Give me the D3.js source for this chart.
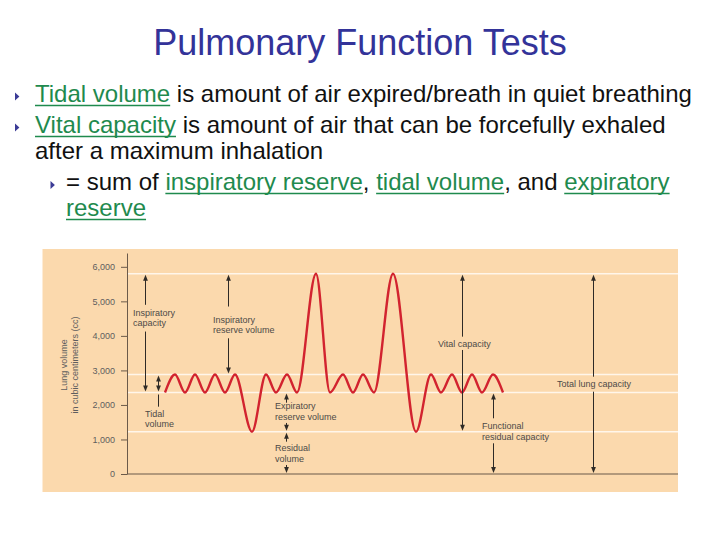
<!DOCTYPE html>
<html>
<head>
<meta charset="utf-8">
<script src="https://cdn.jsdelivr.net/npm/d3@7"></script>
<style>
  html, body { margin: 0; padding: 0; background: #ffffff; }
  svg { display: block; font-family: "Liberation Sans", Arial, Helvetica, sans-serif; }
</style>
</head>
<body>
<svg id="chart" width="720" height="540"></svg>
<script>
// ---------------- DATA ----------------
const titleText = "Pulmonary Function Tests";

// slide bullet lines: [text, isGreenLink]
const bulletLine1 = [["Tidal volume", true], [" is amount of air expired/breath in quiet breathing", false]];
const bulletLine2 = [["Vital capacity", true], [" is amount of air that can be forcefully exhaled", false]];
const bulletLine3 = [["after a maximum inhalation", false]];
const bulletLine4 = [["= sum of ", false], ["inspiratory reserve", true], [", ", false], ["tidal volume", true], [", and ", false], ["expiratory", true]];
const bulletLine5 = [["reserve", true]];

// y axis
const yTicks = [0, 1000, 2000, 3000, 4000, 5000, 6000];
const yAxisTitle = ["Lung volume", "in cubic centimeters (cc)"];

// reference levels (cc)
const levelValues = [5800, 2880, 2360, 1225];

// spirogram extremes (time units, volume in cc)
const breathTimes   = [3.7, 4.7, 5.7, 6.7, 7.7, 8.7, 9.7, 10.7, 12.4, 13.8, 14.8, 15.9, 16.9, 18.8, 20.2,
                       21.5, 22.5, 23.5, 24.6, 26.5, 28.8, 30.3, 31.3, 32.4, 33.4, 34.4, 35.4, 36.5, 37.5];
const breathVolumes = [2360, 2880, 2360, 2880, 2360, 2880, 2360, 2880, 1225, 2880, 2360, 2880, 2360, 5800, 2360,
                       2880, 2360, 2880, 2360, 5800, 1225, 2880, 2360, 2880, 2360, 2880, 2360, 2880, 2360];

// annotations: arrow at time x from volume a to volume b, label lines anchored at (tx, ty) in data units
const annLabels = [["Inspiratory", "capacity"], ["Tidal", "volume"], ["Inspiratory", "reserve volume"],
                   ["Expiratory", "reserve volume"], ["Residual", "volume"], ["Vital capacity"],
                   ["Functional", "residual capacity"], ["Total lung capacity"]];
const annX      = [1.7, 3.0, 10.0, 15.8, 15.8, 33.4, 36.5, 46.5];
const annFrom   = [5800, 2880, 5800, 2360, 1225, 5800, 2360, 5800];
const annTo     = [2360, 2360, 2880, 1225, 0, 1225, 0, 0];
const annTextX  = [0.5, 1.7, 8.5, 14.7, 14.7, 31.0, 35.4, 42.9];
const annTextY  = [4580, 1660, 4385, 1875, 658, 3690, 1296, 2530];
const annGapTop = [4900, null, 4850, 2065, 936, 3977, 1613, 2818];
const annGapBot = [4125, null, 3930, 1478, 261, 3591, 889, 2384];

// ---------------- DRAW ----------------
const svg = d3.select("#chart");
const FONT = '"Liberation Sans", Arial, Helvetica, sans-serif';

// title
svg.append("text")
  .attr("x", 360).attr("y", 54.5)
  .attr("text-anchor", "middle")
  .attr("font-size", 36)
  .attr("fill", "#333399")
  .text(titleText);

// bullets
const GREEN = "#1f8a4e";
function bulletText(segs, x, y) {
  const t = svg.append("text").attr("x", x).attr("y", y).attr("font-size", 24).attr("fill", "#111");
  segs.forEach(s => t.append("tspan").attr("fill", s[1] ? GREEN : "#111").text(s[0]));
  const node = t.node();
  let idx = 0;
  segs.forEach(s => {
    if (s[1]) {
      const x0 = node.getStartPositionOfChar(idx).x;
      const w = node.getSubStringLength(idx, s[0].length);
      svg.append("line").attr("x1", x0).attr("x2", x0 + w)
        .attr("y1", y + 3.5).attr("y2", y + 3.5)
        .attr("stroke", GREEN).attr("stroke-width", 1.5);
    }
    idx += s[0].length;
  });
}
function bulletMark(cx, cy, s) {
  svg.append("path")
    .attr("d", `M${cx - s * 0.5},${cy - s}L${cx + s * 0.6},${cy}L${cx - s * 0.5},${cy + s}Z`)
    .attr("fill", "#3b3b96");
}
bulletMark(17, 96.5, 4);
bulletText(bulletLine1, 35, 102);
bulletMark(17, 127.5, 4);
bulletText(bulletLine2, 35, 133);
bulletText(bulletLine3, 35, 159);
bulletMark(52.5, 185, 4);
bulletText(bulletLine4, 66, 190);
bulletText(bulletLine5, 66, 216);

// chart panel
svg.append("rect")
  .attr("x", 42.5).attr("y", 249).attr("width", 635.5).attr("height", 243)
  .attr("fill", "#fbd9ad");

const x = d3.scaleLinear().domain([0, 55]).range([128, 678]);
const y = d3.scaleLinear().domain([0, 6400]).range([474, 253]);

// white level lines
svg.append("g").selectAll("line").data(levelValues).join("line")
  .attr("x1", x(0)).attr("x2", x.range()[1])
  .attr("y1", d => y(d)).attr("y2", d => y(d))
  .attr("stroke", "#fff6ea").attr("stroke-width", 1.6);

// axes
const yAxis = d3.axisLeft(y).tickValues(yTicks).tickFormat(d3.format(","))
  .tickSize(6).tickSizeOuter(0).tickPadding(6);
const gy = svg.append("g").attr("transform", `translate(${x(0) - 1},0)`).call(yAxis);
gy.select(".domain").attr("stroke", "#6b5a4a").attr("stroke-width", 1);
gy.selectAll(".tick line").attr("stroke", "#6b5a4a");
gy.selectAll(".tick text").attr("fill", "#5e5e5e").attr("font-size", 9).attr("font-family", FONT);

svg.append("line")
  .attr("x1", x(0) - 1).attr("x2", x.range()[1])
  .attr("y1", y(0)).attr("y2", y(0))
  .attr("stroke", "#6b5a4a").attr("stroke-width", 1.2);

// y axis title
const yt = svg.append("g").attr("fill", "#5e5e5e").attr("font-size", 9);
yt.append("text").attr("transform", "translate(67,365) rotate(-90)").attr("text-anchor", "middle").text(yAxisTitle[0]);
yt.append("text").attr("transform", "translate(78,365) rotate(-90)").attr("text-anchor", "middle").text(yAxisTitle[1]);

// spirogram curve
const pts = breathTimes.map((t, i) => [t, breathVolumes[i]]);
const line = d3.line().x(d => x(d[0])).y(d => y(d[1])).curve(d3.curveMonotoneX);
svg.append("path").datum(pts)
  .attr("d", line)
  .attr("fill", "none")
  .attr("stroke", "#d2232f")
  .attr("stroke-width", 2.4)
  .attr("stroke-linejoin", "round");

// annotations
const ARROW = "#2e2a26";
function head(px, py, dir) { // dir: -1 pointing up, +1 pointing down
  const L = 6, W = 2.4;
  svg.append("path")
    .attr("d", `M${px},${py}L${px - W},${py - dir * L}L${px + W},${py - dir * L}Z`)
    .attr("fill", ARROW);
}
function seg(px, y1, y2) {
  svg.append("line").attr("x1", px).attr("x2", px).attr("y1", y1).attr("y2", y2)
    .attr("stroke", ARROW).attr("stroke-width", 1);
}
annLabels.forEach((lab, i) => {
  const px = Math.round(x(annX[i])) + 0.5;
  const yTop = y(annFrom[i]) + 1, yBot = y(annTo[i]) - 1;
  head(px, yTop, -1);
  head(px, yBot, 1);
  if (annGapTop[i] !== null) {
    seg(px, yTop + 3, y(annGapTop[i]));
    seg(px, y(annGapBot[i]), yBot - 3);
  } else {
    seg(px, yTop + 3, yBot - 3);
    // leader down to label
    seg(px, yBot + 3, y(annTextY[i]) - 10);
  }
  const t = svg.append("text")
    .attr("x", x(annTextX[i])).attr("y", y(annTextY[i]))
    .attr("font-size", 9).attr("fill", "#4d4a47");
  lab.forEach((s, k) => t.append("tspan").attr("x", x(annTextX[i])).attr("dy", k === 0 ? 0 : 10.3).text(s));
});
</script>
</body>
</html>
